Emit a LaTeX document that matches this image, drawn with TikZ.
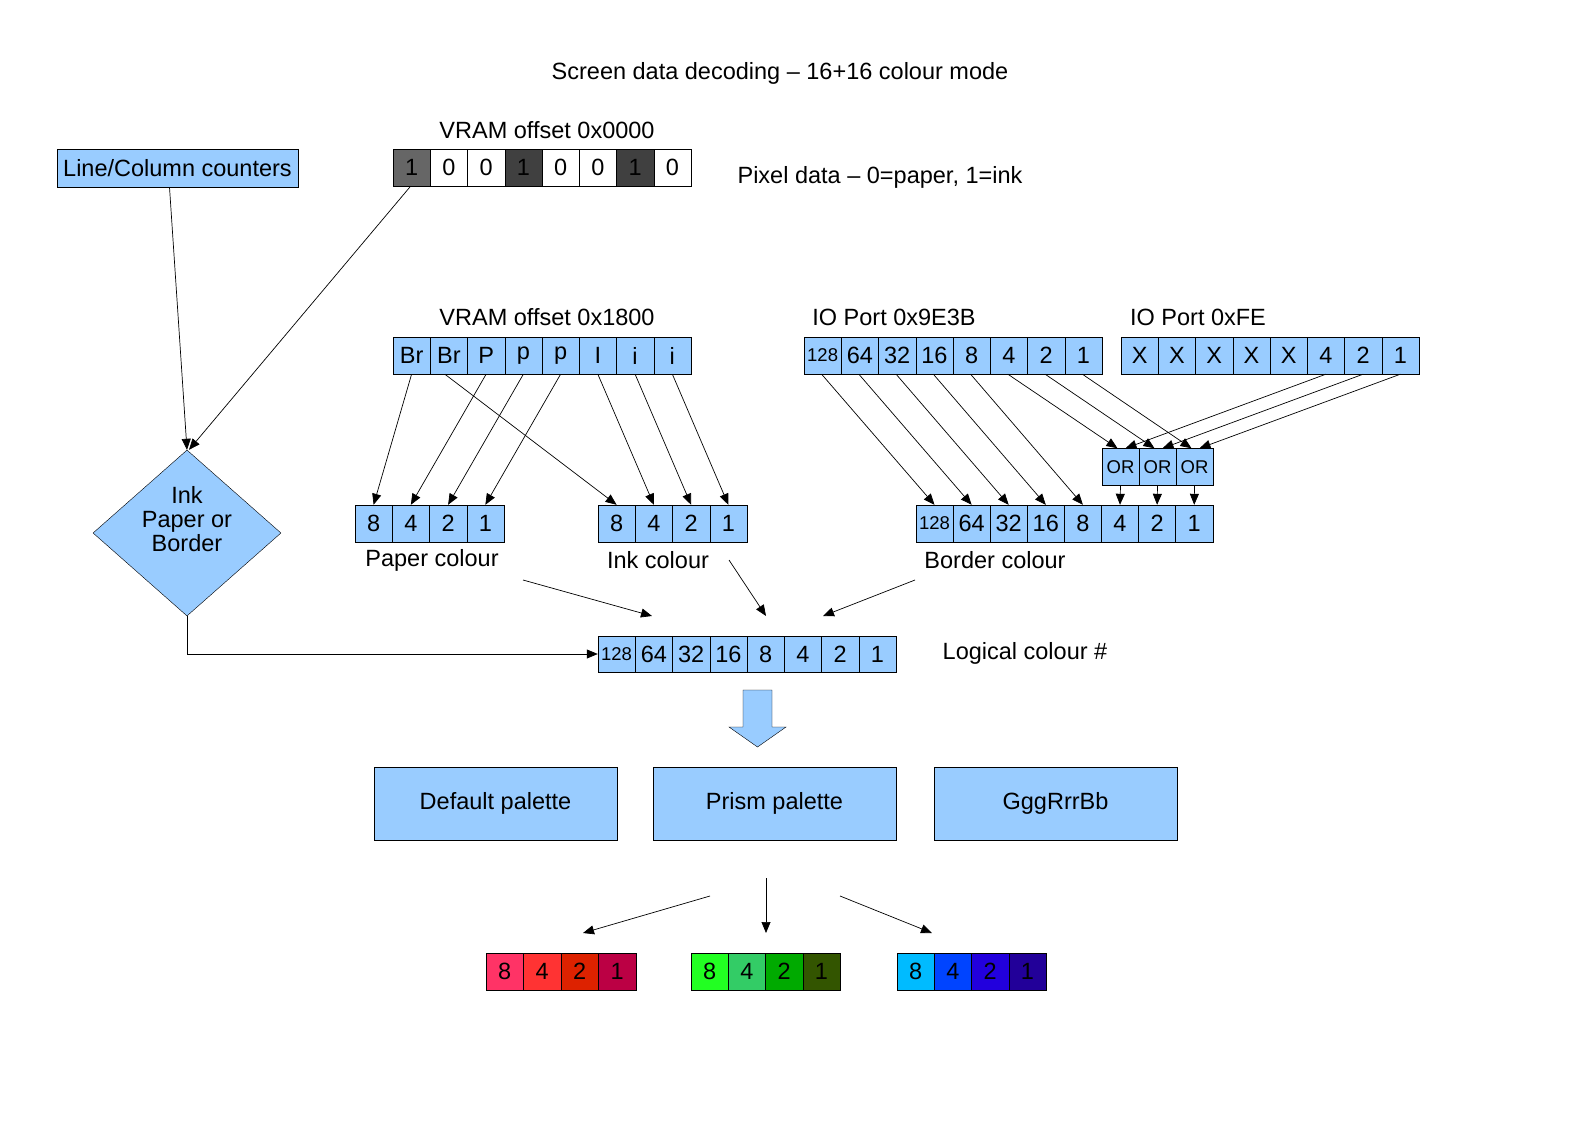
\documentclass[tikz,border=0pt]{standalone}
\usepackage{fontspec}
\setmainfont{Liberation Sans}
\usetikzlibrary{arrows.meta,shapes.geometric}
\definecolor{cb}{HTML}{99CCFF}
\begin{document}
\begin{tikzpicture}[x=1pt,y=-1pt,font=\fontsize{23.5}{27}\selectfont,
  cell/.style={draw,fill=cb,minimum width=#1,minimum height=37pt,inner sep=0pt},
  cell/.default=37.25pt,
  sm/.style={font=\fontsize{18.5}{20}\selectfont},
  arr/.style={-{Triangle[length=11pt,width=9pt]},line width=0.7pt},
  lbl/.style={inner sep=1pt}]
\useasboundingbox[fill=white] (0,0) rectangle (1587,1123);
\node[lbl] (title) at (780,73) {Screen data decoding – 16+16 colour mode};
% pixel row
\node[lbl] (vr0lab) at (547,130) {VRAM offset 0x0000};
\foreach \t/\c [count=\i] in {1/black!60,0/white,0/white,1/black!75,0/white,0/white,1/black!75,0/white}
  \node[cell,fill=\c] (pix\i) at (411.6+37.25*\i-37.25,167.5) {\t};
\node[lbl] (pixlab) at (880,177) {Pixel data – 0=paper, 1=ink};
\node[cell,minimum width=241pt,minimum height=38pt] (lcc) at (177.5,168) {Line/Column counters};
\node[diamond,draw,fill=cb,minimum width=188pt,minimum height=166pt,inner sep=0pt,aspect=1.13] (dia) at (187,533) {};
\node[align=center,lbl] (dtxt) at (187,519) {Ink\\[-3pt]Paper or\\[-3pt]Border};
% VRAM 1800
\node[lbl] (vr1lab) at (547,317) {VRAM offset 0x1800};
\foreach \t [count=\i] in {Br,Br,P,p,p,I,i,i}
  \node[cell] (vr\i) at (411.6+37.25*\i-37.25,355.5) {\t};
\node[lbl] (iolab) at (894,317) {IO Port 0x9E3B};
\node[cell,sm] (io1) at (822.6,355.5) {128};
\foreach \t [count=\i from 2] in {64,32,16,8,4,2,1}
  \node[cell] (io\i) at (822.6+37.25*\i-37.25,355.5) {\t};
\node[lbl] (felab) at (1198,317) {IO Port 0xFE};
\foreach \t [count=\i] in {X,X,X,X,X,4,2,1}
  \node[cell] (fe\i) at (1139.6+37.25*\i-37.25,355.5) {\t};
\foreach \i in {1,2,3}
  \node[cell=37pt,sm] (or\i) at (1120.5+37*\i-37,467) {OR};
% paper / ink / border
\foreach \t [count=\i] in {8,4,2,1} {
  \node[cell] (pap\i) at (373.6+37.25*\i-37.25,523.5) {\t};
  \node[cell] (ink\i) at (616.6+37.25*\i-37.25,523.5) {\t};
}
\node[cell=37.1pt,sm] (bor1) at (934.5,523.5) {128};
\foreach \t [count=\i from 2] in {64,32,16,8,4,2,1}
  \node[cell=37.1pt] (bor\i) at (934.5+37.1*\i-37.1,523.5) {\t};
\node[lbl] (paplab) at (432,560) {Paper colour};
\node[lbl] (inklab) at (658,560) {Ink colour};
\node[lbl] (borlab) at (995,560) {Border colour};
% logical
\node[cell,minimum height=36pt,sm] (log1) at (616.6,654) {128};
\foreach \t [count=\i from 2] in {64,32,16,8,4,2,1}
  \node[cell,minimum height=36pt] (log\i) at (616.6+37.25*\i-37.25,654) {\t};
\node[lbl] (loglab) at (1025,653) {Logical colour \#};
% big arrow
\draw[fill=cb] (743,690) -- (772,690) -- (772,727) -- (786,727) -- (757.5,747) -- (729,727) -- (743,727) -- cycle;
% palettes
\node[cell,minimum width=243pt,minimum height=73pt] (pal1) at (495.5,803.5) {Default palette};
\node[cell,minimum width=243pt,minimum height=73pt] (pal2) at (774.5,803.5) {Prism palette};
\node[cell,minimum width=243pt,minimum height=73pt] (pal3) at (1055.5,803.5) {GggRrrBb};
% colour rows
\foreach \c/\t [count=\i] in {FF3366/8,FF3333/4,DD2200/2,BB0044/1}
  {\definecolor{tmp}{HTML}{\c}\node[cell=37.5pt,fill=tmp] (red\i) at (504.75+37.5*\i-37.5,971.5) {\t};}
\foreach \c/\t [count=\i] in {22FF22/8,33CC66/4,00AA00/2,335500/1}
  {\definecolor{tmp}{HTML}{\c}\node[cell=37.25pt,fill=tmp] (grn\i) at (709.6+37.25*\i-37.25,971.5) {\t};}
\foreach \c/\t [count=\i] in {00BBFF/8,0044FF/4,2200DD/2,220099/1}
  {\definecolor{tmp}{HTML}{\c}\node[cell=37.25pt,fill=tmp] (blu\i) at (915.6+37.25*\i-37.25,971.5) {\t};}
% free-end coordinates
\coordinate (pS) at (523,580); \coordinate (pE) at (652,616);
\coordinate (iS) at (729,560); \coordinate (iE) at (766,616);
\coordinate (bS) at (915,580); \coordinate (bE) at (823,616);
\coordinate (rS) at (710,896); \coordinate (rE) at (583,933);
\coordinate (gS) at (766,878); \coordinate (gE) at (766,933);
\coordinate (uS) at (840,896); \coordinate (uE) at (932,933);
% arrows
\draw[arr] ([xshift=-8pt]lcc.south) -- (dia.north);
\draw[arr] ([xshift=-1pt]pix1.south) -- ([xshift=2pt]dia.north);
\draw[arr] (vr1.south) -- (pap1.north);
\draw[arr] ([xshift=-4pt]vr2.south) -- (ink1.north);
\draw[arr] (vr3.south) -- (pap2.north);
\draw[arr] (vr4.south) -- (pap3.north);
\draw[arr] (vr5.south) -- (pap4.north);
\draw[arr] (vr6.south) -- (ink2.north);
\draw[arr] (vr7.south) -- (ink3.north);
\draw[arr] (vr8.south) -- (ink4.north);
\foreach \i in {1,...,5}
  \draw[arr] ([xshift=-1pt]io\i.south) -- (bor\i.north);
\foreach \i/\j in {6/1,7/2,8/3} {
  \draw[arr] ([xshift=-1pt]io\i.south) -- ([xshift=-3pt]or\j.north);
  \draw[arr] (fe\i.south) -- ([xshift=5pt]or\j.north);
}
\foreach \i/\j in {1/6,2/7,3/8}
  \draw[arr] (or\i.south) -- (bor\j.north);
\draw[arr] (pS) -- (pE);
\draw[arr] (iS) -- (iE);
\draw[arr] (bS) -- (bE);
\draw[arr] (dia.south) |- (log1.west);
\draw[arr] (rS) -- (rE);
\draw[arr] (gS) -- (gE);
\draw[arr] (uS) -- (uE);
\end{tikzpicture}
\end{document}
